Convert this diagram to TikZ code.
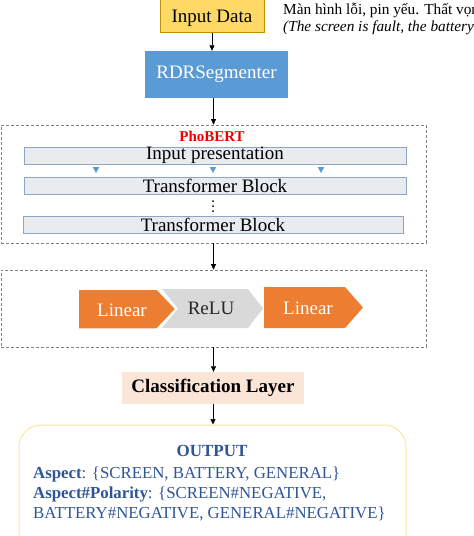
\documentclass[tikz,border=0pt]{standalone}
\usepackage{fontspec}
\setmainfont{Liberation Serif}
\usetikzlibrary{arrows.meta}
\definecolor{golden}{HTML}{FFD966}
\definecolor{goldedge}{HTML}{BF9000}
\definecolor{rdrblue}{HTML}{5B9BD5}
\definecolor{barfill}{HTML}{E9EBEF}
\definecolor{baredge}{HTML}{8EA6C6}
\definecolor{dashgray}{HTML}{7F7F7F}
\definecolor{orangec}{HTML}{ED7D31}
\definecolor{relugray}{HTML}{D9D9D9}
\definecolor{peach}{HTML}{FBE5D6}
\definecolor{outyellow}{HTML}{FFE699}
\definecolor{outblue}{HTML}{2F5597}
\definecolor{phored}{HTML}{EE0000}
\begin{document}
\begin{tikzpicture}[x=1pt,y=-1pt,
  big/.style={font=\fontsize{19}{22}\selectfont},
  bar/.style={draw=baredge, fill=barfill, line width=0.8pt, minimum height=17pt, inner sep=0pt, big},
  dashbox/.style={draw=dashgray, densely dashed, line width=0.7pt},
  conn/.style={-{Triangle[length=5.5pt,width=5pt]}, line width=0.6pt, black},
  outtxt/.style={text=outblue, font=\fontsize{16.8}{20}\selectfont, inner sep=0pt, anchor=base west}
]
\useasboundingbox (0,0) rectangle (474,536);
\clip (0,0) rectangle (474,536);

% Input data
\node[draw=goldedge, fill=golden, line width=0.6pt, minimum width=104pt, minimum height=42pt, anchor=south, inner sep=0pt] (indata) at (212,33) {};
\node[big, inner sep=0pt] (indatatext) at (212,18) {Input Data};

% sentence
\node[anchor=base west, inner sep=0pt, font=\fontsize{15.3}{18}\selectfont] (sent) at (283,14) {Màn hình lỗi, pin yếu. Thất vọng.};
\node[anchor=base west, inner sep=0pt, font=\fontsize{15.3}{18}\selectfont\itshape] (sentEn) at (283,31) {(The screen is fault, the battery is weak. Disappointed.)};

% RDRSegmenter
\node[fill=rdrblue, minimum width=143pt, minimum height=47pt, inner sep=0pt, text=white, big] (rdr) at (216.5,74.5) {RDRSegmenter};

% PhoBERT box
\node[dashbox, minimum width=425pt, minimum height=118pt, inner sep=0pt] (phobert) at (213.5,184) {};
\node[text=phored, font=\fontsize{15}{18}\selectfont\bfseries, inner sep=0pt] (phoname) at (212,136) {PhoBERT};
\node[bar, minimum width=382pt] (ip) at (215,155.5) {Input presentation};
\node[bar, minimum width=382pt] (tb1) at (215,185.5) {Transformer Block};
\node[bar, minimum width=380pt] (tb2) at (213,224.5) {Transformer Block};
\foreach \xx in {96,213,321}{
  \fill[rdrblue] (\xx-3.3,167) -- (\xx+3.3,167) -- (\xx,173) -- cycle;
}
\foreach \yy in {201,206,211}{
  \fill[black] (213,\yy) circle (1pt);
}

% FFN box
\node[dashbox, minimum width=425pt, minimum height=77pt, inner sep=0pt] (ffn) at (213.5,308.5) {};
\fill[relugray] (162,289) -- (248,289) -- (263,308.5) -- (248,328) -- (162,328) -- (178,308.5) -- cycle;
\fill[orangec, draw=white, line width=1.5pt] (78,289) -- (157,289) -- (176,309) -- (157,329) -- (78,329) -- cycle;
\fill[orangec] (264,287) -- (345,287) -- (363,307.5) -- (345,328) -- (264,328) -- cycle;
\node[big, text=white, inner sep=0pt] (lin1) at (122,310) {Linear};
\node[big, text=black!85, inner sep=0pt] (relu) at (211,308) {ReLU};
\node[big, text=white, inner sep=0pt] (lin2) at (308,308) {Linear};

% Classification
\node[fill=peach, minimum width=182pt, minimum height=32pt, inner sep=0pt, big, font=\fontsize{19}{22}\selectfont\bfseries] (cls) at (213,388) {Classification Layer};

% Output
\node[draw=outyellow, fill=white, line width=1pt, rounded corners=22pt, minimum width=387pt, minimum height=150pt, inner sep=0pt] (out) at (212.5,500) {};
\node[text=outblue, font=\fontsize{17}{20}\selectfont\bfseries, inner sep=0pt, anchor=base] (outtitle) at (212,456) {OUTPUT};
\node[outtxt] (asp) at (33,478) {\textbf{Aspect}: \{SCREEN, BATTERY, GENERAL\}};
\node[outtxt] (pol) at (33,498) {\textbf{Aspect\#Polarity}: \{SCREEN\#NEGATIVE,};
\node[outtxt] (pol2) at (33,518) {BATTERY\#NEGATIVE, GENERAL\#NEGATIVE\}};

% connectors
\draw[conn] (indata.south) -- (indata.south |- rdr.north);
\draw[conn] (rdr.south -| phobert.north) -- (phobert.north);
\draw[conn] (phobert.south) -- (ffn.north);
\draw[conn] (ffn.south) -- (ffn.south |- cls.north);
\draw[conn] (cls.south) -- (cls.south |- out.north);
\end{tikzpicture}
\end{document}
